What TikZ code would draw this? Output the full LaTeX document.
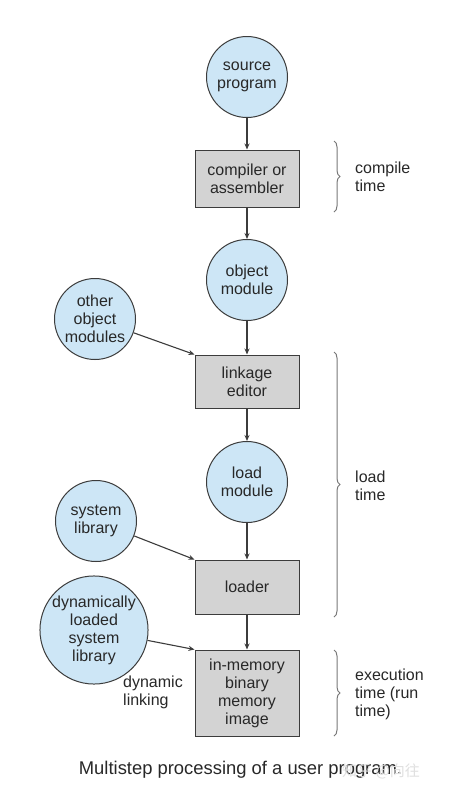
\documentclass[tikz,border=0pt]{standalone}
\usepackage{fontspec}
\setmainfont{Liberation Sans}
\newfontfamily\cjkfont{Noto Sans CJK SC}
\usetikzlibrary{arrows.meta,decorations.pathreplacing}
\definecolor{circfill}{RGB}{205,230,246}
\definecolor{boxfill}{RGB}{211,211,211}
\definecolor{edgecol}{RGB}{60,60,60}
\definecolor{bracecol}{RGB}{120,120,120}
\definecolor{txt}{RGB}{40,40,40}
\tikzset{
  circ/.style={circle,draw=edgecol,fill=circfill,line width=1pt,minimum size=#1,inner sep=0pt,align=center,text=txt,font=\fontsize{16}{18}\selectfont},
  circ/.default=81pt,
  boxn/.style={rectangle,draw=edgecol,fill=boxfill,line width=1pt,minimum width=104pt,inner sep=0pt,align=center,text=txt,font=\fontsize{16}{18}\selectfont},
  conn/.style={draw=edgecol,line width=1.1pt,-{Stealth[length=6pt,width=5pt]}},
  tbrace/.style={draw=bracecol,line width=1pt,decorate,decoration={brace,amplitude=6pt}},
  lbl/.style={align=left,anchor=west,text=txt,font=\fontsize{16}{18}\selectfont,inner sep=0pt}
}
\begin{document}
\begin{tikzpicture}[x=1pt,y=-1pt]
\useasboundingbox (0,0) rectangle (474,807);
\fill[white] (0,0) rectangle (474,807);
% main column
\node[circ] (src) at (247,77) {source\\program};
\node[boxn,minimum height=57pt] (comp) at (247,178.5) {compiler or\\assembler};
\node[circ] (obj) at (247,280) {object\\module};
\node[circ] (other) at (95,319) {other\\object\\modules};
\node[boxn,minimum height=53pt] (link) at (247,381.5) {linkage\\editor};
\node[circ] (loadm) at (247,482) {load\\module};
\node[circ] (syslib) at (96,521) {system\\library};
\node[boxn,minimum height=54pt] (loader) at (247,587) {loader};
\node[circ=94pt] (dyn) at (94,630) {dynamically\\loaded\\system\\library};
\node[boxn,minimum height=86pt] (mem) at (247,693) {in-memory\\binary\\memory\\image};
% connectors
\draw[conn] (src) -- (comp);
\draw[conn] (comp) -- (obj);
\draw[conn] (obj) -- (link);
\draw[conn] (other) -- (link.north west);
\draw[conn] (link) -- (loadm);
\draw[conn] (loadm) -- (loader);
\draw[conn] (syslib) -- (loader.north west);
\draw[conn] (loader) -- (mem);
\draw[conn] (dyn) -- (mem.north west);
% braces
\coordinate (b1t) at (334,141);
\coordinate (b1b) at (334,212);
\draw[tbrace] (b1t) -- (b1b);
\node[lbl] (l1) at (355,177) {compile\\time};
\coordinate (b2t) at (334,352);
\coordinate (b2b) at (334,617);
\draw[tbrace] (b2t) -- (b2b);
\node[lbl] (l2) at (355,486) {load\\time};
\coordinate (b3t) at (334,650);
\coordinate (b3b) at (334,736);
\draw[tbrace] (b3t) -- (b3b);
\node[lbl] (l3) at (355,694) {execution\\time (run\\time)};
\node[lbl] (dl) at (123,692) {dynamic\\linking};
% caption
\node[anchor=center,text=txt,font=\fontsize{18.4}{20}\selectfont,inner sep=0pt] (cap) at (240.5,770) {Multistep processing of a user program.};
\node[anchor=west,text=black!12,font=\cjkfont\fontsize{15}{16}\selectfont,inner sep=0pt] (wm) at (342,771) {知乎 @向往};
\end{tikzpicture}
\end{document}
